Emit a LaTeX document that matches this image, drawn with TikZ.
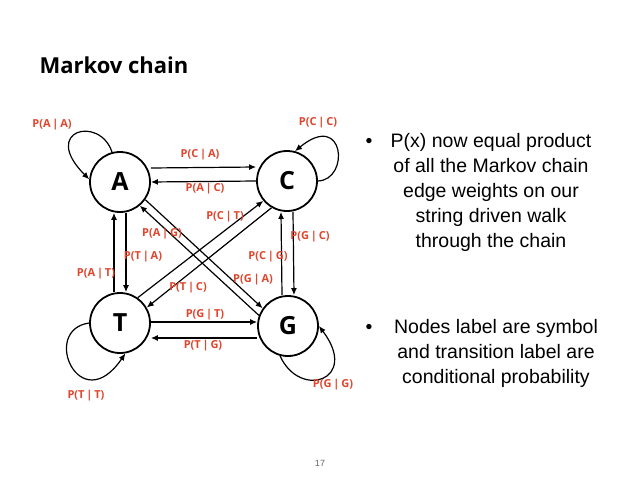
\documentclass[tikz,border=0pt]{standalone}
\usepackage{fontspec}
\setmainfont{Liberation Sans}
\newfontfamily\osans{Open Sans}
\usetikzlibrary{arrows.meta}
\begin{document}
\begin{tikzpicture}[x=1pt,y=-1pt,>={Latex[length=7pt,width=6pt]},
  st/.style={circle,draw,line width=1.8pt,minimum size=60pt,inner sep=0pt,font=\osans\bfseries\fontsize{25}{25}\selectfont},
  lb/.style={text=lab,font=\osans\bfseries\fontsize{11}{11}\selectfont,inner sep=1pt},
  ed/.style={->,line width=1.2pt},
  bt/.style={font=\fontsize{19.5}{25}\selectfont,align=center,anchor=north}]
\definecolor{lab}{HTML}{E0452E}
\useasboundingbox (0,0) rectangle (638,479);
\fill[white] (0,0) rectangle (638,479);
\node[anchor=west,font=\osans\bfseries\fontsize{22}{22}\selectfont] (title) at (36,65) {Markov chain};
\node[st] (A) at (120,182) {A};
\node[st] (C) at (287,181) {C};
\node[st] (T) at (120,323) {T};
\node[st] (G) at (288,326) {G};
% horizontal
\draw[ed] ([yshift=14pt]A.east) -- ([yshift=14pt]C.west);
\draw[ed] (C.west) -- (A.east);
\draw[ed] ([yshift=1pt]T.east) -- ([yshift=4pt]G.west);
\draw[ed] ([yshift=-12pt]G.west) -- ([yshift=-15pt]T.east);
% vertical
\draw[ed] ([xshift=6pt]A.south) -- ([xshift=6pt]T.north);
\draw[ed] ([xshift=-6pt]T.north) -- ([xshift=-6pt]A.south);
\draw[ed] ([xshift=6pt]C.south) -- ([xshift=6pt]G.north);
\draw[ed] ([xshift=-6pt]G.north) -- ([xshift=-6pt]C.south);
% diagonals
\draw[ed] (A.-35) -- (G.145);
\draw[ed] (G.160) -- (A.-50);
\draw[ed] (C.-120) -- (T.30);
\draw[ed] (T.55) -- (C.-140);
% loops
\draw[ed] (A.105) .. controls (100,115) and (40,130) .. (A.175);
\draw[ed] (C.0) .. controls (350,180) and (345,110) .. (C.75);
\draw[ed] (T.180) .. controls (40,330) and (80,420) .. (T.-80);
\draw[ed] (G.-105) .. controls (300,400) and (360,380) .. (G.0);
% labels
\node[lb] (l1) at (52,125) {P(A\,|\,A)};
\node[lb] (l2) at (318,123) {P(C\,|\,C)};
\node[lb] (l3) at (200,155) {P(C\,|\,A)};
\node[lb] (l4) at (205,189) {P(A\,|\,C)};
\node[lb] (l5) at (225,217) {P(C\,|\,T)};
\node[lb] (l6) at (162,234) {P(A\,|\,G)};
\node[lb] (l7) at (310,237) {P(G\,|\,C)};
\node[lb] (l8) at (143,257) {P(T\,|\,A)};
\node[lb] (l9) at (268,257) {P(C\,|\,G)};
\node[lb] (l10) at (96,274) {P(A\,|\,T)};
\node[lb] (l11) at (253,280) {P(G\,|\,A)};
\node[lb] (l12) at (188,288) {P(T\,|\,C)};
\node[lb] (l13) at (205,315) {P(G\,|\,T)};
\node[lb] (l14) at (203,346) {P(T\,|\,G)};
\node[lb] (l15) at (333,385) {P(G\,|\,G)};
\node[lb] (l16) at (86,396) {P(T\,|\,T)};
% text
\node[font=\fontsize{19.5}{20}\selectfont] (b1) at (369,143) {•};
\node[bt] (t1) at (491,130) {P(x) now equal product\\of all the Markov chain\\edge weights on our\\string driven walk\\through the chain};
\node[font=\fontsize{19.5}{20}\selectfont] (b2) at (369,329) {•};
\node[bt] (t2) at (496,316) {Nodes label are symbol\\and transition label are\\conditional probability};
\node[text=black!60,font=\fontsize{9}{10}\selectfont] (pg) at (320,463) {17};
\end{tikzpicture}
\end{document}
